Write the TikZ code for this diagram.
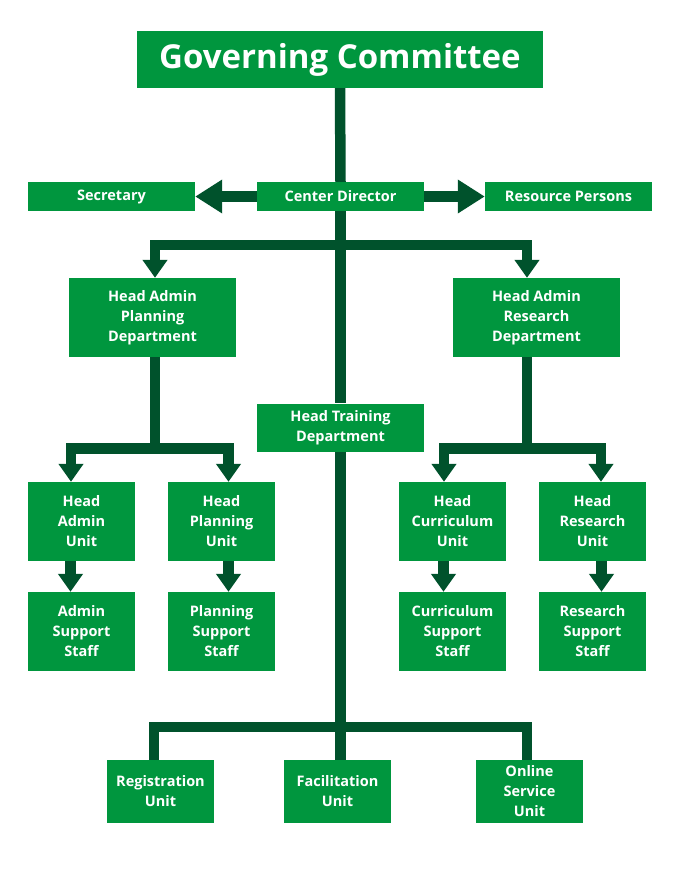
\documentclass[tikz,border=0pt]{standalone}
\usepackage{fontspec}
\usetikzlibrary{arrows.meta,calc}
\newfontfamily\titlefont{Open Sans}
\newfontfamily\labfont{Open Sans}
\definecolor{boxgreen}{RGB}{0,150,62}
\definecolor{linegreen}{RGB}{0,82,44}
\tikzset{
  box/.style={draw=none, fill=boxgreen, text=white, align=center, inner sep=0pt,
    font=\labfont\bfseries\fontsize{14.5}{20}\selectfont},
  conn/.style={draw=linegreen, line width=10.5pt, line join=miter, line cap=butt},
  darrow/.style={conn, -{Triangle[width=24pt,length=18pt]}},
  harrow/.style={conn, -{Triangle[width=32pt,length=27pt]}},
}
\begin{document}
\begin{tikzpicture}[x=1pt,y=-1pt]
\useasboundingbox (0,0) rectangle (680,884);
% nodes
\node[box, minimum width=406pt, minimum height=57pt, font=\titlefont\bfseries\fontsize{33}{38}\selectfont] (gc) at (340,59.5) {Governing Committee};
\node[box, minimum width=167pt, minimum height=29pt] (sec) at (111.5,196.5) {Secretary};
\node[box, minimum width=167pt, minimum height=29pt] (cd) at (340.5,196.5) {Center Director};
\node[box, minimum width=167pt, minimum height=29pt] (rp) at (568.5,196.5) {Resource Persons};
\node[box, minimum width=167pt, minimum height=79pt] (hapd) at (152.5,317.5) {Head Admin\\Planning\\Department};
\node[box, minimum width=167pt, minimum height=79pt] (hard) at (536.5,317.5) {Head Admin\\Research\\Department};
\node[box, minimum width=167pt, minimum height=48pt] (htd) at (340.5,427.5) {Head Training\\Department};
\node[box, minimum width=107pt, minimum height=79pt] (hau) at (81.5,521.5) {Head\\Admin\\Unit};
\node[box, minimum width=107pt, minimum height=79pt] (hpu) at (221.5,521.5) {Head\\Planning\\Unit};
\node[box, minimum width=107pt, minimum height=79pt] (hcu) at (452.5,521.5) {Head\\Curriculum\\Unit};
\node[box, minimum width=107pt, minimum height=79pt] (hru) at (592.5,521.5) {Head\\Research\\Unit};
\node[box, minimum width=107pt, minimum height=79pt] (ass) at (81.5,631.5) {Admin\\Support\\Staff};
\node[box, minimum width=107pt, minimum height=79pt] (pss) at (221.5,631.5) {Planning\\Support\\Staff};
\node[box, minimum width=107pt, minimum height=79pt] (css) at (452.5,631.5) {Curriculum\\Support\\Staff};
\node[box, minimum width=107pt, minimum height=79pt] (rss) at (592.5,631.5) {Research\\Support\\Staff};
\node[box, minimum width=107pt, minimum height=63pt] (reg) at (160.5,791.5) {Registration\\Unit};
\node[box, minimum width=107pt, minimum height=63pt] (fac) at (337.5,791.5) {Facilitation\\Unit};
\node[box, minimum width=107pt, minimum height=63pt] (onl) at (529.5,791.5) {Online\\Service\\Unit};
% junction coordinates
\coordinate (j1) at (340,245);
\coordinate (j2) at (155,448.5);
\coordinate (j3) at (527,448.5);
\coordinate (j4) at (340,727);
% trunk
\draw[conn] (gc.south) -- (cd.north);
\draw[conn] (cd.south) -- (htd.north);
\draw[conn] (htd.south) -- (htd.south |- fac.north);
% side arrows
\draw[harrow] (cd.west) -- (sec.east);
\draw[harrow] (cd.east) -- (rp.west);
% department arrows
\draw[darrow] (j1) -| ([xshift=2.5pt]hapd.north);
\draw[darrow] (j1) -| ([xshift=-9.5pt]hard.north);
% left branch
\draw[conn] ([xshift=2.5pt]hapd.south) -- (j2);
\draw[darrow] ([xshift=2.5pt]j2) -| ([xshift=-10.5pt]hau.north);
\draw[darrow] ([xshift=-2.5pt]j2) -| ([xshift=7pt]hpu.north);
% right branch
\draw[conn] ([xshift=-9.5pt]hard.south) -- (j3);
\draw[darrow] ([xshift=2.5pt]j3) -| ([xshift=-8.5pt]hcu.north);
\draw[darrow] ([xshift=-2.5pt]j3) -| ([xshift=8.5pt]hru.north);
% unit to staff arrows
\draw[darrow] ([xshift=-11pt]hau.south) -- ([xshift=-11pt]ass.north);
\draw[darrow] ([xshift=7pt]hpu.south) -- ([xshift=7pt]pss.north);
\draw[darrow] ([xshift=-9pt]hcu.south) -- ([xshift=-9pt]css.north);
\draw[darrow] ([xshift=9pt]hru.south) -- ([xshift=9pt]rss.north);
% bottom branch
\draw[conn] ([xshift=-6.5pt]reg.north) |- (j4) -| ([xshift=-2.5pt]onl.north);
\end{tikzpicture}
\end{document}
